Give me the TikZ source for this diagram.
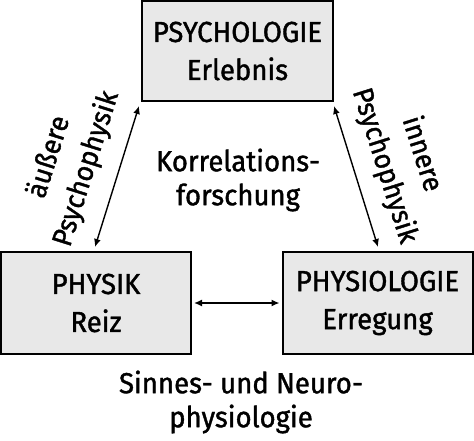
\documentclass[tikz,border=0pt]{standalone}
\usepackage{fontspec}
\setmainfont{Fira Sans}[FakeStretch=0.95,FakeBold=1.3]
\usetikzlibrary{arrows.meta,calc}
\begin{document}
\begin{tikzpicture}[x=1pt,y=1pt,
  box/.style={draw=black,line width=2pt,fill=black!9,align=center,inner sep=0pt,
    font=\fontsize{29}{38}\selectfont},
  lbl/.style={align=center,inner sep=0pt,font=\fontsize{29}{34}\selectfont},
  side/.style={align=center,inner sep=0pt,font=\fontsize{28}{39}\selectfont},
  conn/.style={line width=1.4pt,{Latex[length=8pt,width=7pt]}-{Latex[length=8pt,width=7pt]}}]
\useasboundingbox (0,0) rectangle (474,440);
\node[box,minimum width=191pt,minimum height=100pt] (psy) at (237.5,389) {PSYCHOLOGIE\\Erlebnis};
\node[box,minimum width=190pt,minimum height=102pt] (phy) at (96,137) {PHYSIK\\Reiz};
\node[box,minimum width=190pt,minimum height=102pt] (phl) at (377.5,137) {PHYSIOLOGIE\\Erregung};
\node[lbl] (korr) at (238,260) {Korrelations-\\forschung};
\node[lbl] (sinn) at (241,38) {Sinnes- und Neuro-\\physiologie};
\node[side,rotate=72.5] (aus) at (68,277) {äußere\\Psychophysik};
\node[side,rotate=-72.5] (inn) at (403,280) {innere\\Psychophysik};
\draw[conn] ($(psy.south west)+(-2,-4)$) -- ($(phy.north)+(-1,4)$);
\draw[conn] ($(psy.south east)+(0,-4)$) -- ($(phl.north)+(0.5,4)$);
\draw[conn,shorten <=2pt,shorten >=2pt] (phy.east) -- (phl.west);
\end{tikzpicture}
\end{document}
